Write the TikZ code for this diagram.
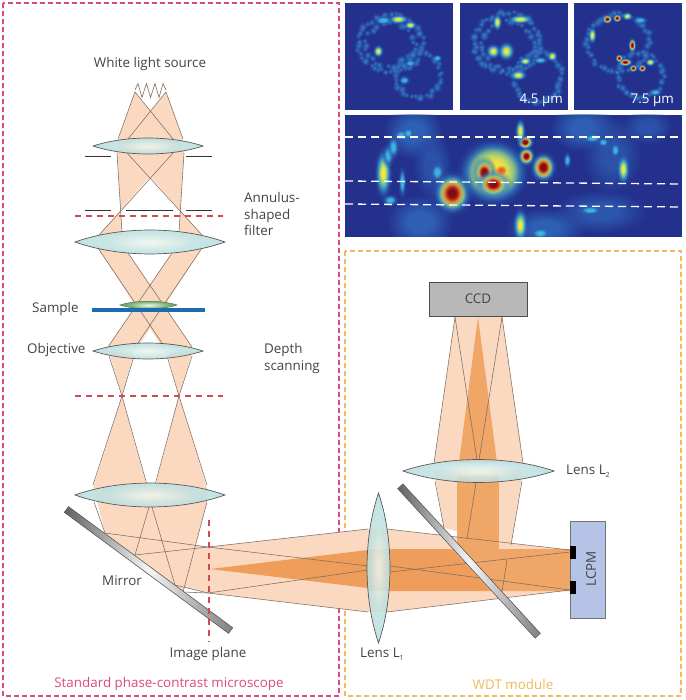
\documentclass[tikz,border=0pt]{standalone}
\usepackage{fontspec}
\setmainfont{Open Sans}
\usetikzlibrary{fadings}
\pgfdeclareradialshading{softshade}{\pgfpoint{0bp}{0bp}}{color(0bp)=(white); color(9bp)=(white); color(25bp)=(black); color(100bp)=(black)}
\pgfdeclarefading{softb}{\pgfuseshading{softshade}}
\definecolor{beam}{HTML}{FBD9C0}
\definecolor{beamd}{HTML}{F0A666}
\definecolor{beamdd}{HTML}{EE9E5A}
\definecolor{rayc}{HTML}{7D6D62}
\definecolor{lensE}{HTML}{9FD2D6}
\definecolor{lensM}{HTML}{C2E2E2}
\definecolor{lensC}{HTML}{F2F6EE}
\definecolor{pinkc}{HTML}{DC4A85}
\definecolor{orangec}{HTML}{F0B95A}
\definecolor{redd}{HTML}{CF4A55}
\definecolor{navy}{HTML}{23308C}
\definecolor{haze}{HTML}{2E5FB4}
\definecolor{cyanh}{HTML}{39B4DC}
\definecolor{greenh}{HTML}{A3DB78}
\definecolor{yellowh}{HTML}{F7E53B}
\definecolor{redh}{HTML}{E5261F}
\definecolor{darkh}{HTML}{7E0F10}
\definecolor{txt}{HTML}{444444}
\definecolor{lcpmc}{HTML}{B5C3E6}
\definecolor{barb}{HTML}{1A6DB0}
\definecolor{grA}{HTML}{F0F5E8}
\definecolor{grB}{HTML}{7DBB74}
\definecolor{grC}{HTML}{2F7A3A}
\pgfdeclareradialshading{lensshade}{\pgfpoint{0bp}{0bp}}{color(0bp)=(lensC); color(14bp)=(lensM); color(50bp)=(lensE); color(100bp)=(lensE)}
\pgfdeclareradialshading{greenshade}{\pgfpoint{0bp}{0bp}}{color(0bp)=(grA); color(16bp)=(grB); color(42bp)=(grC); color(100bp)=(grC)}
\tikzset{
 x=1pt,y=-1pt,
 rayl/.style={draw=rayc,line width=0.55pt},
 lab/.style={text=txt,font=\fontsize{13.4}{15}\selectfont,inner sep=0pt},
 lenspath/.style={draw=black!65,line width=0.7pt,shading=lensshade,fill opacity=0.86},
 mirrorb/.style={draw=black!65,line width=0.6pt,minimum height=7pt,inner sep=0pt,rectangle,
   left color=black!62,right color=black!50,middle color=white!96!black},
 stopl/.style={line width=1pt,draw=black!80},
 reddash/.style={draw=redd,line width=1.4pt,dash pattern=on 6pt off 5pt},
 panelp/.style={draw=pinkc,line width=1.2pt,dash pattern=on 5pt off 3pt},
 panelo/.style={draw=orangec,line width=1.2pt,dash pattern=on 5pt off 3pt},
 imgb/.style={fill=navy},
 wdash/.style={draw=white,line width=1.3pt,dash pattern=on 8pt off 5pt},
}
\newcommand\hlens[4]{% cx cy halfw halfh
 \path[lenspath] (#1-#3,#2) .. controls (#1-0.4*#3,#2-1.33*#4) and (#1+0.4*#3,#2-1.33*#4) .. (#1+#3,#2)
   .. controls (#1+0.4*#3,#2+1.33*#4) and (#1-0.4*#3,#2+1.33*#4) .. cycle;}
\newcommand\vlens[4]{% cx cy halfw halfh
 \path[lenspath] (#1,#2-#4) .. controls (#1-1.33*#3,#2-0.4*#4) and (#1-1.33*#3,#2+0.4*#4) .. (#1,#2+#4)
   .. controls (#1+1.33*#3,#2+0.4*#4) and (#1+1.33*#3,#2-0.4*#4) .. cycle;}
\newcommand\blob[5]{\fill[#5,path fading=softb] (#1,#2) ellipse ({#3} and {#4});}
\newcommand\hot[4]{%
 \blob{#1}{#2}{2.4*#3}{2.4*#4}{haze}
 \blob{#1}{#2}{2.0*#3}{2.0*#4}{cyanh}
 \blob{#1}{#2}{1.7*#3}{1.7*#4}{greenh}
 \blob{#1}{#2}{1.5*#3}{1.5*#4}{yellowh}
 \blob{#1}{#2}{1.25*#3}{1.25*#4}{redh}
 \blob{#1}{#2}{0.9*#3}{0.9*#4}{darkh}}
\newcommand\warm[4]{%
 \blob{#1}{#2}{2.4*#3}{2.4*#4}{haze}
 \blob{#1}{#2}{1.9*#3}{1.9*#4}{cyanh}
 \blob{#1}{#2}{1.4*#3}{1.4*#4}{greenh}
 \blob{#1}{#2}{0.9*#3}{0.9*#4}{yellowh}}
\newcommand\cool[4]{%
 \blob{#1}{#2}{2.2*#3}{2.2*#4}{haze}
 \blob{#1}{#2}{1.4*#3}{1.4*#4}{cyanh}}
\newcommand\ringb[5]{% cx cy rx ry step
 \foreach \a in {0,#5,...,359}{%
  \pgfmathsetmacro\dx{#1+#3*cos(\a)+1.8*rand}
  \pgfmathsetmacro\dy{#2+#4*sin(\a)+1.8*rand}
  \pgfmathsetmacro\rr{1.8+1.4*rnd}
  \fill[haze,fill opacity=0.7,path fading=softb] (\dx,\dy) circle ({1.7*\rr});
  \fill[cyanh!75!haze,fill opacity=0.42,path fading=softb] (\dx,\dy) circle ({0.9*\rr});
 }}
\begin{document}
\begin{tikzpicture}
\useasboundingbox (0,0) rectangle (685,700);
\fill[white] (0,0) rectangle (685,700);
\pgfmathsetseed{11}
% panels
\draw[panelp] (3,3) rectangle (339,696);
\draw[panelo] (345,251) rectangle (681,696);
% images
\begin{scope}
 \clip (345,3) rectangle (453,110);
 \fill[imgb] (345,3) rectangle (453,110);
 \ringb{390}{43}{32}{28}{8}
 \ringb{418}{75}{23}{22}{10}
 \ringb{390}{45}{25}{22}{14}
 \warm{398}{19}{5}{2.2}
 \warm{410}{25}{3}{2}
 \cool{383}{20}{5}{2.5}
 \warm{378}{51}{2.5}{3}
 \cool{437}{58}{2.5}{2}
 \cool{410}{63}{3}{2}
 \cool{404}{80}{3}{2.5}
\end{scope}
\begin{scope}
 \clip (460,3) rectangle (568,110);
 \fill[imgb] (460,3) rectangle (568,110);
 \ringb{507}{43}{33}{30}{7}
 \ringb{537}{77}{24}{25}{9}
 \ringb{507}{45}{26}{24}{11}
 \warm{493}{51}{3.5}{3.5}
 \warm{506}{51}{4}{4.5}
 \warm{520}{19}{6}{2.2}
 \warm{497}{22}{2.2}{4}
 \warm{552}{56}{2.5}{2.5}
 \warm{525}{61}{3}{2}
 \warm{518}{75}{4}{2.5}
 \cool{540}{60}{4}{2}
\end{scope}
\begin{scope}
 \clip (574,3) rectangle (682,110);
 \fill[imgb] (574,3) rectangle (682,110);
 \ringb{618}{43}{31}{29}{9}
 \ringb{640}{75}{23}{22}{11}
 \hot{607}{19}{2.5}{2.2}
 \hot{617}{18}{2.2}{2}
 \warm{627}{16}{2.5}{2}
 \warm{592}{35}{2}{4}
 \hot{632}{45}{1.9}{3.5}
 \hot{625}{62}{3.5}{2}
 \hot{619}{58}{1.9}{2}
 \hot{633}{68}{2}{1.9}
 \hot{642}{68}{2}{1.9}
 \warm{650}{62}{2.5}{2}
 \cool{655}{92}{3.5}{2}
 \cool{640}{20}{4}{2}
\end{scope}
\begin{scope}
 \clip (345,115) rectangle (682,237);
 \fill[imgb] (345,115) rectangle (682,237);
 \blob{413}{132}{30}{28}{haze}
 \blob{583}{128}{34}{24}{haze}
 \blob{647}{127}{26}{18}{haze!70!navy}
 \blob{420}{222}{34}{28}{haze}
 \blob{545}{228}{40}{20}{haze}
 \blob{600}{212}{48}{22}{haze!80!navy}
 \blob{612}{155}{30}{40}{haze!70!navy}
 \blob{432}{165}{20}{36}{haze!70!navy}
 \warm{383}{173}{4}{12}
 \cool{388}{155}{3}{6}
 \cool{393}{147}{3}{6}
 \cool{402}{135}{5}{3}
 \cool{408}{133}{3}{3}
 \cool{402}{182}{2}{8}
 \cool{390}{200}{4}{3}
 \cool{437}{172}{3.5}{5}
 \hot{452}{193}{9}{10}
 \blob{493}{172}{38}{36}{haze}
 \blob{493}{172}{33}{31}{cyanh}
 \blob{493}{172}{28}{27}{greenh}
 \blob{493}{172}{25}{24}{yellowh}
 \hot{484}{172}{5.5}{7}
 \hot{493}{184}{8}{6.5}
 \blob{501}{170}{6}{5}{redh!70!yellowh}
 \hot{543}{167}{6}{7}
 \hot{526}{156}{4}{4.5}
 \hot{525}{142}{4}{3.5}
 \warm{520}{131}{2.5}{6}
 \warm{520}{225}{3.5}{8}
 \cool{567}{160}{2}{4}
 \cool{540}{233}{5}{3}
 \warm{623}{169}{3}{7}
 \cool{592}{138}{5}{2.5}
 \cool{603}{142}{3}{2.5}
 \cool{590}{210}{6}{2.5}
 \cool{615}{150}{2.5}{4}
 \draw[wdash] (345,137) -- (682,137);
 \draw[wdash] (345,181) -- (682,184);
 \draw[wdash] (345,204) -- (682,207);
\end{scope}
% ---------- beams left column
\fill[beam] (135,92) -- (118,140) -- (173,140) -- cycle;
\fill[beam] (166,92) -- (128,140) -- (183,140) -- cycle;
\fill[beam] (118,139) rectangle (183,154);
\fill[beam] (117,150) -- (173,150) -- (99,235) -- (122,235) -- cycle;
\fill[beam] (184,150) -- (127,150) -- (202,235) -- (179,235) -- cycle;
\fill[beam] (98,248) -- (128,253) -- (192,347) -- (162,347) -- cycle;
\fill[beam] (202,248) -- (172,253) -- (108,347) -- (138,347) -- cycle;
\fill[beam] (109,352) -- (134,352) -- (122,396) -- (147,488) -- (93,488) -- (122,396) -- cycle;
\fill[beam] (167,352) -- (192,352) -- (179,396) -- (207,488) -- (155,488) -- (179,396) -- cycle;
\fill[beam] (94,488) -- (207,488) -- (207,502) -- (183,592) -- (105,533) -- cycle;
\fill[beam] (105,533) -- (208,547) -- (368,529) -- (368,612) -- (208,593) -- (175,585) -- cycle;
\fill[beam] (387,529) -- (570,550) -- (570,590) -- (387,612) -- cycle;
\fill[beam] (368,529) rectangle (388,612);
\fill[beam] (434,470) -- (523,470) -- (511,545) -- (444,528) -- cycle;
\fill[beam] (434,463) -- (455,317) -- (502,317) -- (523,463) -- cycle;
% dark beams
\fill[beamdd] (210,569) -- (368,550) -- (368,588) -- cycle;
\fill[beamdd] (368,549) rectangle (460,591);
\fill[beamd] (478,317) -- (459,462) -- (497,462) -- cycle;
\fill[beamd] (457,475) rectangle (499,549);
\fill[beamd] (440,549) -- (570,549) -- (570,591) -- (490,591) -- cycle;
\fill[beamdd] (368,549) -- (450,549) -- (490,591) -- (368,591) -- cycle;
% rays
\draw[rayl] (118,139) -- (135,92) -- (173,139);
\draw[rayl] (128,139) -- (166,92) -- (183,139);
\draw[rayl] (117,153) -- (122,232);
\draw[rayl] (184,153) -- (179,232);
\draw[rayl] (127,153) -- (182,213) -- (202,235);
\draw[rayl] (173,153) -- (119,213) -- (99,235);
\draw[rayl] (98,248) -- (162,343);
\draw[rayl] (128,253) -- (192,347);
\draw[rayl] (202,248) -- (138,343);
\draw[rayl] (172,253) -- (108,347);
\draw[rayl] (109,356) -- (122,396) -- (93,485);
\draw[rayl] (134,356) -- (122,396) -- (147,485);
\draw[rayl] (167,356) -- (179,396) -- (155,485);
\draw[rayl] (192,356) -- (179,396) -- (207,485);
\draw[rayl] (94,502) -- (105,533) -- (208,547) -- (368,566);
\draw[rayl] (149,507) -- (135,555) -- (208,547) -- (368,529);
\draw[rayl] (152,507) -- (175,585) -- (208,593) -- (368,612);
\draw[rayl] (207,502) -- (183,592) -- (208,593) -- (368,570);
\draw[rayl] (387,529) -- (570,550);
\draw[rayl] (390,566) -- (570,590);
\draw[rayl] (390,572) -- (570,552);
\draw[rayl] (387,612) -- (570,590);
\draw[rayl] (455,317) -- (434,463);
\draw[rayl] (502,317) -- (523,463);
\draw[rayl] (455,317) -- (477,460);
\draw[rayl] (502,317) -- (479,460);
\draw[rayl] (435,481) -- (444,528);
\draw[rayl] (522,481) -- (511,545);
\draw[rayl] (476,483) -- (467,539);
\draw[rayl] (507,560) -- (502,592);
% lamp
\draw[rayl,line width=0.6pt] (135,90) -- (138,83.5) -- (142,97.5) -- (146.5,83.5) -- (150.5,97.5) -- (155,83.5) -- (159,97.5) -- (163,83.5) -- (166,90);
% stops
\draw[stopl] (85,157) -- (111,157);
\draw[stopl] (186,157) -- (212,157);
\draw[stopl] (85,211) -- (111,211);
\draw[stopl] (126,211) -- (173,211);
\draw[stopl] (186,211) -- (212,211);
\draw[reddash] (75,216) -- (223,216);
\draw[reddash] (75,396) -- (223,396);
% lenses
\hlens{148}{146}{55}{8}
\hlens{150}{242}{75}{12}
\hlens{148}{351}{55}{8}
\hlens{150}{495}{75}{12}
\hlens{478.5}{471}{75.5}{11.5}
\vlens{378.5}{568}{11.5}{75}
% sample
\path[draw=black!60,line width=0.5pt,shading=greenshade] (120,305) .. controls (135,300) and (162,300) .. (177,305) .. controls (162,310) and (135,310) .. cycle;
\fill[barb] (92,307.5) rectangle (205,311.5);
% mirrors
\node[mirrorb,minimum width=204pt,rotate=-36.4] (m1) at (148.5,570) {};
\node[mirrorb,minimum width=203pt,rotate=-47.4] (m2) at (469,561) {};
% image plane
\draw[reddash] (209,520) -- (209,642);
% CCD, LCPM
\node[draw=black!70,fill=black!28,line width=0.6pt,minimum width=98pt,minimum height=34pt,inner sep=0pt,text=txt,font=\fontsize{13.4}{15}\selectfont] (ccd) at (478,299) {CCD};
\node[draw=black!55,fill=lcpmc,line width=0.6pt,minimum width=35pt,minimum height=97pt,inner sep=0pt] (lcpm) at (587.5,569.5) {};
\node[lab,rotate=90] (lcpmt) at (591,569) {LCPM};
\fill[black] (570,546) rectangle (576,559);
\fill[black] (570,581) rectangle (576,594);
% labels
\node[lab] (t1) at (150,64) {White light source};
\node[lab,align=left,anchor=west] (t2) at (244,214) {Annulus-\\[1.5pt]shaped\\[1.5pt]filter};
\node[lab,anchor=west] (t3) at (32,309) {Sample};
\node[lab,anchor=west] (t4) at (27,350) {Objective};
\node[lab,align=left,anchor=west] (t5) at (264,358.5) {Depth\\[1.5pt]scanning};
\node[lab,anchor=west] (t6) at (102,581) {Mirror};
\node[lab] (t7) at (208,654) {Image plane};
\node[lab,anchor=west] (t8) at (360,654) {Lens L\raisebox{-2.5pt}{\fontsize{7}{8}\selectfont 1}};
\node[lab,anchor=west] (t9) at (566,471) {Lens L\raisebox{-2.5pt}{\fontsize{7}{8}\selectfont 2}};
\node[lab,text=pinkc] (t10) at (169,684) {Standard phase-contrast microscope};
\node[lab,text=orangec] (t11) at (513,684) {WDT module};
\node[lab,text=white,anchor=east] (t12) at (563,100) {4.5 µm};
\node[lab,text=white,anchor=east] (t13) at (674,100) {7.5 µm};
\end{tikzpicture}
\end{document}
